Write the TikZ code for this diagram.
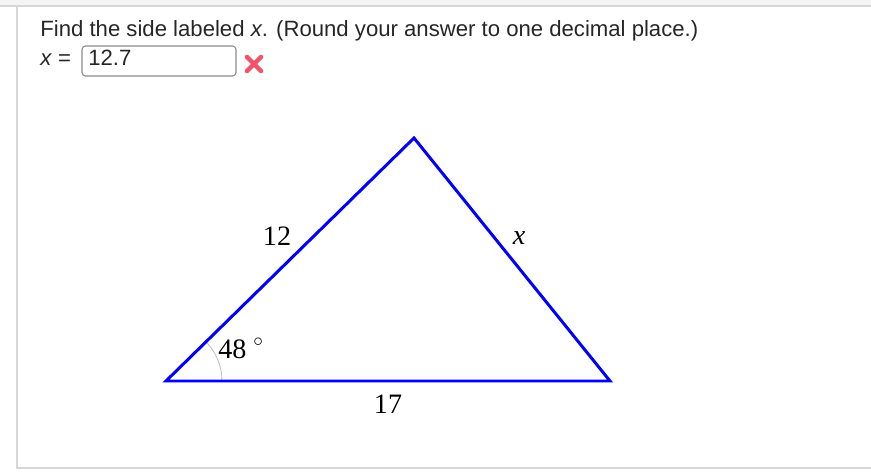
\documentclass[tikz,border=0pt]{standalone}
\usepackage{fontspec}
\setmainfont{Liberation Serif}
\setsansfont{Liberation Sans}
\usetikzlibrary{positioning, calc}

\definecolor{framegray}{HTML}{D6D6D6}
\definecolor{topgray}{HTML}{F4F4F4}
\definecolor{boxgray}{HTML}{8A8A8A}
\definecolor{wrongred}{HTML}{F2536A}

\begin{document}
\begin{tikzpicture}[x=0.02cm, y=-0.02cm,
        side/.style={blue, line width=1.7pt, line join=miter},
        label/.style={font=\fontsize{16}{18}\selectfont, inner sep=0pt},
        prompt/.style={font=\sffamily\fontsize{12.6}{14}\selectfont, text=black!85, inner sep=0pt, anchor=base west}
    ]
        \useasboundingbox (0,0) rectangle (871,476);
        % page frame
        \fill[topgray] (0,0) rectangle (871,6);
        \draw[framegray, line width=0.6pt] (0,6) -- (871,6);
        \draw[framegray, line width=0.6pt] (17,6) -- (17,468) -- (871,468);

        % question and answer box
        \node[prompt] (q) at (40,37) {Find the side labeled \textit{x}. (Round your answer to one decimal place.)};
        \node[prompt] (xeq) at (40,66) {\textit{x} =};
        \draw[boxgray, rounded corners=2pt, line width=0.6pt] (82,46) rectangle (236,76);
        \node[prompt] (ans) at (88,66) {12.7};
        \draw[wrongred, line width=2.6pt, line cap=round] (247,57) -- (261,71) (261,57) -- (247,71);

        % triangle
        \coordinate (A) at (166,381);
        \coordinate (B) at (414,138);
        \coordinate (C) at (610,381);
        \draw[black!25, line width=0.5pt] ($(A)+(56,0)$) arc[start angle=0, end angle=-44.4, radius=56];
        \draw[side] (A) -- (B) -- (C) -- cycle;

        \node[label] (ab) at (277,236) {12};
        \node[label] (bc) at (519,238) {\textit{x}};
        \node[label, anchor=base west] (ang) at (218,358) {48 $^{\circ}$};
        \node[label] (ac) at (388,404) {17};
    \end{tikzpicture}
\end{document}
